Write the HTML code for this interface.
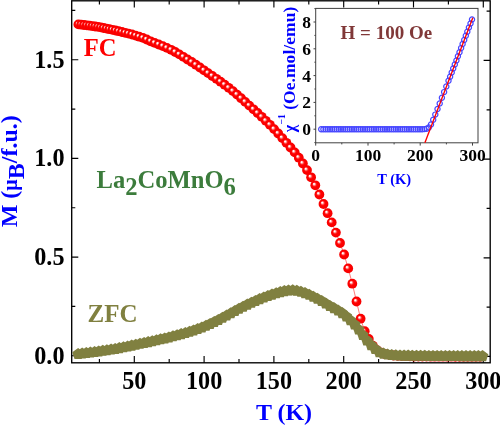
<!DOCTYPE html>
<html><head><meta charset="utf-8"><title>M-T La2CoMnO6</title>
<style>html,body{margin:0;padding:0;background:#fff}svg{display:block}text{font-family:"Liberation Serif","Times New Roman",serif;font-weight:bold}</style></head><body>
<svg width="500" height="426" viewBox="0 0 500 426">
<defs><radialGradient id="ball" cx="0.5" cy="0.5" r="0.5" fx="0.35" fy="0.34"><stop offset="0" stop-color="#fff"/><stop offset="0.1" stop-color="#fff"/><stop offset="0.25" stop-color="#ff9090"/><stop offset="0.42" stop-color="#ff1818"/><stop offset="0.55" stop-color="#ff0000"/><stop offset="1" stop-color="#f40000"/></radialGradient>
<circle id="b" r="4.9" fill="url(#ball)"/>
<polygon id="p" points="0.00,-5.60 5.80,-1.39 3.59,5.44 -3.59,5.44 -5.80,-1.39" fill="#808040"/>
<circle id="c" r="2.6" fill="none" stroke="#4646ff" stroke-width="1.2"/>
</defs>
<rect width="500" height="426" fill="#fff"/>
<rect x="71.7" y="0.8" width="418.5" height="362.0" fill="none" stroke="#000" stroke-width="1.35"/>
<path d="M99.4,362.8v-3.8 M99.4,0.8v3.8 M134.3,362.8v-6.8 M134.3,0.8v6.8 M169.2,362.8v-3.8 M169.2,0.8v3.8 M204.1,362.8v-6.8 M204.1,0.8v6.8 M239.0,362.8v-3.8 M239.0,0.8v3.8 M273.9,362.8v-6.8 M273.9,0.8v6.8 M308.8,362.8v-3.8 M308.8,0.8v3.8 M343.7,362.8v-6.8 M343.7,0.8v6.8 M378.6,362.8v-3.8 M378.6,0.8v3.8 M413.5,362.8v-6.8 M413.5,0.8v6.8 M448.4,362.8v-3.8 M448.4,0.8v3.8 M483.3,362.8v-6.8 M483.3,0.8v6.8 M71.7,355.7h6.6 M490.2,356.4h-6.6 M71.7,306.4h3.6 M490.2,307.1h-3.6 M71.7,257.1h6.6 M490.2,257.8h-6.6 M71.7,207.7h3.6 M490.2,208.4h-3.6 M71.7,158.4h6.6 M490.2,159.1h-6.6 M71.7,109.1h3.6 M490.2,109.8h-3.6 M71.7,59.7h6.6 M490.2,60.4h-6.6 M71.7,10.4h3.6 M490.2,11.1h-3.6" stroke="#000" stroke-width="1.15" fill="none"/>
<polyline points="78.4,24.4 81.2,24.7 84.0,25.0 86.8,25.3 89.6,25.7 92.4,26.1 95.2,26.5 98.0,26.9 100.8,27.4 103.6,28.0 106.5,28.6 109.4,29.2 112.4,29.8 115.5,30.5 118.6,31.2 121.9,32.0 125.2,32.8 128.5,33.6 132.0,34.5 135.6,35.6 139.2,36.7 142.9,37.9 146.7,39.5 150.6,41.3 154.6,42.9 158.7,44.5 162.8,46.1 166.9,47.9 171.1,49.8 175.2,52.0 179.3,54.4 183.4,56.9 187.5,59.5 191.7,62.0 195.8,64.7 199.9,67.5 204.0,70.3 208.1,73.1 212.3,76.0 216.4,78.8 220.5,81.7 224.6,84.7 228.7,87.8 232.9,91.1 237.0,94.6 241.1,98.2 245.2,101.9 249.3,105.6 253.5,109.3 257.6,113.0 261.7,116.8 265.8,120.8 269.9,124.8 274.1,129.1 278.2,133.5 282.3,138.1 286.4,142.8 290.5,147.5 294.7,152.4 298.8,157.7 302.9,163.5 307.0,170.1 311.1,177.3 315.3,185.3 319.4,194.5 323.5,204.0 327.6,213.2 331.7,222.4 335.9,232.6 340.0,243.0 344.1,254.5 348.2,268.4 352.3,283.7 356.5,301.5 360.6,318.7 364.7,331.2 368.8,339.0 372.9,345.7 377.1,350.1 381.2,352.7 385.3,354.2 389.4,354.9 393.5,355.5 397.7,355.8 401.8,356.0 405.9,356.2 410.0,356.4 414.1,356.5 418.3,356.6 422.4,356.6 426.5,356.6 430.6,356.7 434.7,356.7 438.9,356.7 443.0,356.7 447.1,356.7 451.2,356.7 455.3,356.8 459.5,356.8 463.6,356.8 467.7,356.8 471.8,356.8 475.9,356.8 480.1,356.8" fill="none" stroke="#ff2020" stroke-width="0.6"/>
<g>
<use href="#b" x="78.4" y="24.4"/>
<use href="#b" x="81.2" y="24.7"/>
<use href="#b" x="84.0" y="25.0"/>
<use href="#b" x="86.8" y="25.3"/>
<use href="#b" x="89.6" y="25.7"/>
<use href="#b" x="92.4" y="26.1"/>
<use href="#b" x="95.2" y="26.5"/>
<use href="#b" x="98.0" y="26.9"/>
<use href="#b" x="100.8" y="27.4"/>
<use href="#b" x="103.6" y="28.0"/>
<use href="#b" x="106.5" y="28.6"/>
<use href="#b" x="109.4" y="29.2"/>
<use href="#b" x="112.4" y="29.8"/>
<use href="#b" x="115.5" y="30.5"/>
<use href="#b" x="118.6" y="31.2"/>
<use href="#b" x="121.9" y="32.0"/>
<use href="#b" x="125.2" y="32.8"/>
<use href="#b" x="128.5" y="33.6"/>
<use href="#b" x="132.0" y="34.5"/>
<use href="#b" x="135.6" y="35.6"/>
<use href="#b" x="139.2" y="36.7"/>
<use href="#b" x="142.9" y="37.9"/>
<use href="#b" x="146.7" y="39.5"/>
<use href="#b" x="150.6" y="41.3"/>
<use href="#b" x="154.6" y="42.9"/>
<use href="#b" x="158.7" y="44.5"/>
<use href="#b" x="162.8" y="46.1"/>
<use href="#b" x="166.9" y="47.9"/>
<use href="#b" x="171.1" y="49.8"/>
<use href="#b" x="175.2" y="52.0"/>
<use href="#b" x="179.3" y="54.4"/>
<use href="#b" x="183.4" y="56.9"/>
<use href="#b" x="187.5" y="59.5"/>
<use href="#b" x="191.7" y="62.0"/>
<use href="#b" x="195.8" y="64.7"/>
<use href="#b" x="199.9" y="67.5"/>
<use href="#b" x="204.0" y="70.3"/>
<use href="#b" x="208.1" y="73.1"/>
<use href="#b" x="212.3" y="76.0"/>
<use href="#b" x="216.4" y="78.8"/>
<use href="#b" x="220.5" y="81.7"/>
<use href="#b" x="224.6" y="84.7"/>
<use href="#b" x="228.7" y="87.8"/>
<use href="#b" x="232.9" y="91.1"/>
<use href="#b" x="237.0" y="94.6"/>
<use href="#b" x="241.1" y="98.2"/>
<use href="#b" x="245.2" y="101.9"/>
<use href="#b" x="249.3" y="105.6"/>
<use href="#b" x="253.5" y="109.3"/>
<use href="#b" x="257.6" y="113.0"/>
<use href="#b" x="261.7" y="116.8"/>
<use href="#b" x="265.8" y="120.8"/>
<use href="#b" x="269.9" y="124.8"/>
<use href="#b" x="274.1" y="129.1"/>
<use href="#b" x="278.2" y="133.5"/>
<use href="#b" x="282.3" y="138.1"/>
<use href="#b" x="286.4" y="142.8"/>
<use href="#b" x="290.5" y="147.5"/>
<use href="#b" x="294.7" y="152.4"/>
<use href="#b" x="298.8" y="157.7"/>
<use href="#b" x="302.9" y="163.5"/>
<use href="#b" x="307.0" y="170.1"/>
<use href="#b" x="311.1" y="177.3"/>
<use href="#b" x="315.3" y="185.3"/>
<use href="#b" x="319.4" y="194.5"/>
<use href="#b" x="323.5" y="204.0"/>
<use href="#b" x="327.6" y="213.2"/>
<use href="#b" x="331.7" y="222.4"/>
<use href="#b" x="335.9" y="232.6"/>
<use href="#b" x="340.0" y="243.0"/>
<use href="#b" x="344.1" y="254.5"/>
<use href="#b" x="348.2" y="268.4"/>
<use href="#b" x="352.3" y="283.7"/>
<use href="#b" x="356.5" y="301.5"/>
<use href="#b" x="360.6" y="318.7"/>
<use href="#b" x="364.7" y="331.2"/>
<use href="#b" x="368.8" y="339.0"/>
<use href="#b" x="372.9" y="345.7"/>
<use href="#b" x="377.1" y="350.1"/>
<use href="#b" x="381.2" y="352.7"/>
<use href="#b" x="385.3" y="354.2"/>
<use href="#b" x="389.4" y="354.9"/>
<use href="#b" x="393.5" y="355.5"/>
<use href="#b" x="397.7" y="355.8"/>
<use href="#b" x="401.8" y="356.0"/>
<use href="#b" x="405.9" y="356.2"/>
<use href="#b" x="410.0" y="356.4"/>
<use href="#b" x="414.1" y="356.5"/>
<use href="#b" x="418.3" y="356.6"/>
<use href="#b" x="422.4" y="356.6"/>
<use href="#b" x="426.5" y="356.6"/>
<use href="#b" x="430.6" y="356.7"/>
<use href="#b" x="434.7" y="356.7"/>
<use href="#b" x="438.9" y="356.7"/>
<use href="#b" x="443.0" y="356.7"/>
<use href="#b" x="447.1" y="356.7"/>
<use href="#b" x="451.2" y="356.7"/>
<use href="#b" x="455.3" y="356.8"/>
<use href="#b" x="459.5" y="356.8"/>
<use href="#b" x="463.6" y="356.8"/>
<use href="#b" x="467.7" y="356.8"/>
<use href="#b" x="471.8" y="356.8"/>
<use href="#b" x="475.9" y="356.8"/>
<use href="#b" x="480.1" y="356.8"/>
</g>
<polyline points="78.1,353.6 82.2,353.1 86.3,352.6 90.4,352.1 94.6,351.6 98.7,351.0 102.8,350.4 106.9,349.8 111.1,349.1 115.2,348.5 119.3,347.7 123.5,346.9 127.6,346.1 131.7,345.2 135.8,344.3 140.0,343.4 144.1,342.5 148.2,341.7 152.3,340.8 156.5,339.9 160.6,338.9 164.7,338.0 168.9,337.0 173.0,335.9 177.1,334.9 181.2,333.7 185.4,332.6 189.5,331.4 193.6,330.0 197.7,328.6 201.9,327.1 206.0,325.3 210.1,323.5 214.3,321.5 218.4,319.5 222.5,317.4 226.6,315.1 230.8,312.8 234.9,310.6 239.0,308.4 243.1,306.3 247.3,304.2 251.4,302.3 255.5,300.5 259.6,298.7 263.8,297.1 267.9,295.6 272.0,294.2 276.2,292.9 280.3,291.7 284.4,290.7 288.5,290.1 292.7,289.8 296.8,290.4 300.9,291.4 305.0,292.7 309.2,294.4 313.3,296.3 317.4,298.3 321.6,300.5 325.7,303.0 329.8,305.5 333.9,307.7 338.1,310.1 342.2,312.7 346.3,316.0 350.4,319.8 354.6,324.0 358.7,329.1 362.8,334.6 366.9,340.1 371.1,344.7 375.2,348.6 379.3,351.7 383.5,353.2 387.6,354.1 391.7,354.6 395.8,354.9 400.0,355.1 404.1,355.2 408.2,355.2 412.3,355.3 416.5,355.3 420.6,355.4 424.7,355.4 428.9,355.5 433.0,355.5 437.1,355.5 441.2,355.6 445.4,355.6 449.5,355.6 453.6,355.6 457.7,355.6 461.9,355.7 466.0,355.7 470.1,355.7 474.3,355.7 478.4,355.7 482.5,355.7" fill="none" stroke="#808040" stroke-width="1"/>
<g>
<use href="#p" x="78.1" y="353.6"/>
<use href="#p" x="82.2" y="353.1"/>
<use href="#p" x="86.3" y="352.6"/>
<use href="#p" x="90.4" y="352.1"/>
<use href="#p" x="94.6" y="351.6"/>
<use href="#p" x="98.7" y="351.0"/>
<use href="#p" x="102.8" y="350.4"/>
<use href="#p" x="106.9" y="349.8"/>
<use href="#p" x="111.1" y="349.1"/>
<use href="#p" x="115.2" y="348.5"/>
<use href="#p" x="119.3" y="347.7"/>
<use href="#p" x="123.5" y="346.9"/>
<use href="#p" x="127.6" y="346.1"/>
<use href="#p" x="131.7" y="345.2"/>
<use href="#p" x="135.8" y="344.3"/>
<use href="#p" x="140.0" y="343.4"/>
<use href="#p" x="144.1" y="342.5"/>
<use href="#p" x="148.2" y="341.7"/>
<use href="#p" x="152.3" y="340.8"/>
<use href="#p" x="156.5" y="339.9"/>
<use href="#p" x="160.6" y="338.9"/>
<use href="#p" x="164.7" y="338.0"/>
<use href="#p" x="168.9" y="337.0"/>
<use href="#p" x="173.0" y="335.9"/>
<use href="#p" x="177.1" y="334.9"/>
<use href="#p" x="181.2" y="333.7"/>
<use href="#p" x="185.4" y="332.6"/>
<use href="#p" x="189.5" y="331.4"/>
<use href="#p" x="193.6" y="330.0"/>
<use href="#p" x="197.7" y="328.6"/>
<use href="#p" x="201.9" y="327.1"/>
<use href="#p" x="206.0" y="325.3"/>
<use href="#p" x="210.1" y="323.5"/>
<use href="#p" x="214.3" y="321.5"/>
<use href="#p" x="218.4" y="319.5"/>
<use href="#p" x="222.5" y="317.4"/>
<use href="#p" x="226.6" y="315.1"/>
<use href="#p" x="230.8" y="312.8"/>
<use href="#p" x="234.9" y="310.6"/>
<use href="#p" x="239.0" y="308.4"/>
<use href="#p" x="243.1" y="306.3"/>
<use href="#p" x="247.3" y="304.2"/>
<use href="#p" x="251.4" y="302.3"/>
<use href="#p" x="255.5" y="300.5"/>
<use href="#p" x="259.6" y="298.7"/>
<use href="#p" x="263.8" y="297.1"/>
<use href="#p" x="267.9" y="295.6"/>
<use href="#p" x="272.0" y="294.2"/>
<use href="#p" x="276.2" y="292.9"/>
<use href="#p" x="280.3" y="291.7"/>
<use href="#p" x="284.4" y="290.7"/>
<use href="#p" x="288.5" y="290.1"/>
<use href="#p" x="292.7" y="289.8"/>
<use href="#p" x="296.8" y="290.4"/>
<use href="#p" x="300.9" y="291.4"/>
<use href="#p" x="305.0" y="292.7"/>
<use href="#p" x="309.2" y="294.4"/>
<use href="#p" x="313.3" y="296.3"/>
<use href="#p" x="317.4" y="298.3"/>
<use href="#p" x="321.6" y="300.5"/>
<use href="#p" x="325.7" y="303.0"/>
<use href="#p" x="329.8" y="305.5"/>
<use href="#p" x="333.9" y="307.7"/>
<use href="#p" x="338.1" y="310.1"/>
<use href="#p" x="342.2" y="312.7"/>
<use href="#p" x="346.3" y="316.0"/>
<use href="#p" x="350.4" y="319.8"/>
<use href="#p" x="354.6" y="324.0"/>
<use href="#p" x="358.7" y="329.1"/>
<use href="#p" x="362.8" y="334.6"/>
<use href="#p" x="366.9" y="340.1"/>
<use href="#p" x="371.1" y="344.7"/>
<use href="#p" x="375.2" y="348.6"/>
<use href="#p" x="379.3" y="351.7"/>
<use href="#p" x="383.5" y="353.2"/>
<use href="#p" x="387.6" y="354.1"/>
<use href="#p" x="391.7" y="354.6"/>
<use href="#p" x="395.8" y="354.9"/>
<use href="#p" x="400.0" y="355.1"/>
<use href="#p" x="404.1" y="355.2"/>
<use href="#p" x="408.2" y="355.2"/>
<use href="#p" x="412.3" y="355.3"/>
<use href="#p" x="416.5" y="355.3"/>
<use href="#p" x="420.6" y="355.4"/>
<use href="#p" x="424.7" y="355.4"/>
<use href="#p" x="428.9" y="355.5"/>
<use href="#p" x="433.0" y="355.5"/>
<use href="#p" x="437.1" y="355.5"/>
<use href="#p" x="441.2" y="355.6"/>
<use href="#p" x="445.4" y="355.6"/>
<use href="#p" x="449.5" y="355.6"/>
<use href="#p" x="453.6" y="355.6"/>
<use href="#p" x="457.7" y="355.6"/>
<use href="#p" x="461.9" y="355.7"/>
<use href="#p" x="466.0" y="355.7"/>
<use href="#p" x="470.1" y="355.7"/>
<use href="#p" x="474.3" y="355.7"/>
<use href="#p" x="478.4" y="355.7"/>
<use href="#p" x="482.5" y="355.7"/>
</g>
<text x="134.3" y="388.7" font-size="24.2" text-anchor="middle">50</text>
<text x="204.1" y="388.7" font-size="24.2" text-anchor="middle">100</text>
<text x="273.9" y="388.7" font-size="24.2" text-anchor="middle">150</text>
<text x="343.7" y="388.7" font-size="24.2" text-anchor="middle">200</text>
<text x="413.5" y="388.7" font-size="24.2" text-anchor="middle">250</text>
<text x="483.3" y="388.7" font-size="24.2" text-anchor="middle">300</text>
<text x="64.5" y="363.6" font-size="24.2" text-anchor="end">0.0</text>
<text x="64.5" y="265.0" font-size="24.2" text-anchor="end">0.5</text>
<text x="64.5" y="166.3" font-size="24.2" text-anchor="end">1.0</text>
<text x="64.5" y="67.6" font-size="24.2" text-anchor="end">1.5</text>
<text x="284" y="420" font-size="24" text-anchor="middle" fill="#0000ff">T (K)</text>
<text transform="translate(16.5,227.3) rotate(-90)" font-size="24" fill="#0000ff">M (<tspan font-size="20">μ</tspan><tspan dy="7.6">B</tspan><tspan dy="-7.6">/f.u.)</tspan></text>
<text x="83.8" y="56" font-size="24.6" fill="#ff0000">FC</text>
<text x="87.6" y="321.5" font-size="25" fill="#808040">ZFC</text>
<text x="96.5" y="188.4" font-size="24.6" fill="#3c7c3c">La<tspan dy="7">2</tspan><tspan dy="-7">CoMnO</tspan><tspan dy="7">6</tspan></text>
<rect x="315.7" y="8.4" width="162.3" height="134.4" fill="#fff" stroke="#404040" stroke-width="1"/>
<path d="M315.7,142.8v2.8 M341.8,142.8v1.6 M368.0,142.8v2.8 M394.1,142.8v1.6 M420.2,142.8v2.8 M446.4,142.8v1.6 M472.5,142.8v2.8 M315.7,142.6h-1.3 M315.7,129.2h-2.2 M315.7,115.8h-1.3 M315.7,102.4h-2.2 M315.7,89.0h-1.3 M315.7,75.6h-2.2 M315.7,62.2h-1.3 M315.7,48.8h-2.2 M315.7,35.4h-1.3 M315.7,22.0h-2.2 M315.7,8.6h-1.3" stroke="#404040" stroke-width="1" fill="none"/>
<text x="315.7" y="161.3" font-size="17.5" text-anchor="middle">0</text>
<text x="368.0" y="161.3" font-size="17.5" text-anchor="middle">100</text>
<text x="420.2" y="161.3" font-size="17.5" text-anchor="middle">200</text>
<text x="472.5" y="161.3" font-size="17.5" text-anchor="middle">300</text>
<text x="311" y="135.2" font-size="17.5" text-anchor="end">0</text>
<text x="311" y="108.4" font-size="17.5" text-anchor="end">2</text>
<text x="311" y="81.6" font-size="17.5" text-anchor="end">4</text>
<text x="311" y="54.8" font-size="17.5" text-anchor="end">6</text>
<text x="311" y="28.0" font-size="17.5" text-anchor="end">8</text>
<text x="394.2" y="184" font-size="14.5" text-anchor="middle" fill="#0000ff">T (K)</text>
<g transform="translate(295,133) rotate(-90)" fill="#0000ff"><text x="0.8" y="0" font-size="16">χ</text><text x="8.6" y="-10.2" font-size="9.5">−1</text><text x="23.2" y="0" font-size="17.6">(Oe.mol/emu)</text></g>
<text x="340.6" y="38.7" font-size="19" fill="#803838">H = 100 Oe</text>
<g>
<use href="#c" x="321.2" y="129.2"/>
<use href="#c" x="323.4" y="129.2"/>
<use href="#c" x="325.6" y="129.2"/>
<use href="#c" x="327.8" y="129.2"/>
<use href="#c" x="330.0" y="129.2"/>
<use href="#c" x="332.2" y="129.2"/>
<use href="#c" x="334.4" y="129.2"/>
<use href="#c" x="336.6" y="129.2"/>
<use href="#c" x="338.8" y="129.2"/>
<use href="#c" x="340.9" y="129.2"/>
<use href="#c" x="343.1" y="129.2"/>
<use href="#c" x="345.3" y="129.2"/>
<use href="#c" x="347.5" y="129.2"/>
<use href="#c" x="349.7" y="129.2"/>
<use href="#c" x="351.9" y="129.2"/>
<use href="#c" x="354.1" y="129.2"/>
<use href="#c" x="356.3" y="129.2"/>
<use href="#c" x="358.5" y="129.2"/>
<use href="#c" x="360.7" y="129.2"/>
<use href="#c" x="362.9" y="129.2"/>
<use href="#c" x="365.1" y="129.2"/>
<use href="#c" x="367.3" y="129.2"/>
<use href="#c" x="369.5" y="129.2"/>
<use href="#c" x="371.7" y="129.2"/>
<use href="#c" x="373.9" y="129.2"/>
<use href="#c" x="376.1" y="129.2"/>
<use href="#c" x="378.3" y="129.2"/>
<use href="#c" x="380.5" y="129.2"/>
<use href="#c" x="382.7" y="129.2"/>
<use href="#c" x="384.9" y="129.2"/>
<use href="#c" x="387.0" y="129.2"/>
<use href="#c" x="389.2" y="129.2"/>
<use href="#c" x="391.4" y="129.2"/>
<use href="#c" x="393.6" y="129.2"/>
<use href="#c" x="395.8" y="129.2"/>
<use href="#c" x="398.0" y="129.2"/>
<use href="#c" x="400.2" y="129.2"/>
<use href="#c" x="402.4" y="129.2"/>
<use href="#c" x="404.6" y="129.2"/>
<use href="#c" x="406.8" y="129.2"/>
<use href="#c" x="409.0" y="129.2"/>
<use href="#c" x="411.2" y="129.2"/>
<use href="#c" x="413.4" y="129.2"/>
<use href="#c" x="415.6" y="129.2"/>
<use href="#c" x="417.8" y="129.2"/>
<use href="#c" x="420.0" y="129.2"/>
<use href="#c" x="422.2" y="129.2"/>
<use href="#c" x="424.4" y="129.1"/>
<use href="#c" x="426.6" y="128.7"/>
<use href="#c" x="428.8" y="127.4"/>
<use href="#c" x="431.0" y="124.4"/>
<use href="#c" x="433.2" y="119.8"/>
<use href="#c" x="435.3" y="114.6"/>
<use href="#c" x="437.5" y="109.0"/>
<use href="#c" x="439.7" y="103.4"/>
<use href="#c" x="441.9" y="97.8"/>
<use href="#c" x="444.1" y="92.1"/>
<use href="#c" x="446.3" y="86.4"/>
<use href="#c" x="448.5" y="80.8"/>
<use href="#c" x="450.1" y="76.7"/>
<use href="#c" x="451.7" y="72.6"/>
<use href="#c" x="453.2" y="68.5"/>
<use href="#c" x="454.8" y="64.5"/>
<use href="#c" x="456.4" y="60.4"/>
<use href="#c" x="457.9" y="56.3"/>
<use href="#c" x="459.5" y="52.2"/>
<use href="#c" x="461.1" y="48.1"/>
<use href="#c" x="462.6" y="44.0"/>
<use href="#c" x="464.2" y="39.9"/>
<use href="#c" x="465.8" y="35.8"/>
<use href="#c" x="467.3" y="31.7"/>
<use href="#c" x="468.9" y="27.6"/>
<use href="#c" x="470.5" y="23.5"/>
<use href="#c" x="472.0" y="19.4"/>
</g>
<line x1="424.9" y1="142.8" x2="472.8" y2="17.8" stroke="#ff0000" stroke-width="1.35"/>
</svg></body></html>
